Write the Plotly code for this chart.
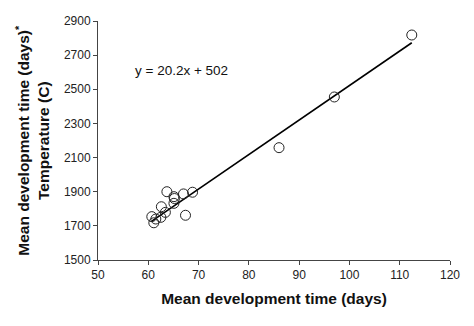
import plotly.graph_objects as go
import numpy as np

# Data
dev_days = [60.7, 61.1, 61.5, 62.5, 62.6, 63.4, 63.7, 65.1, 65.1, 65.2, 67.0, 67.4, 68.8, 86.0, 97.0, 112.4]
dev_temp = [1754, 1718, 1740, 1750, 1812, 1779, 1900, 1832, 1871, 1860, 1887, 1762, 1897, 2158, 2455, 2818]
slope = 20.2
intercept = 502
fit_x = [min(dev_days), max(dev_days)]
fit_y = [slope * v + intercept for v in fit_x]
x_ticks = [50, 60, 70, 80, 90, 100, 110, 120]
y_ticks = [1500, 1700, 1900, 2100, 2300, 2500, 2700, 2900]

fig = go.Figure()
fig.add_trace(go.Scatter(x=fit_x, y=fit_y, mode="lines",
                         line=dict(color="black", width=1.6), showlegend=False))
fig.add_trace(go.Scatter(x=dev_days, y=dev_temp, mode="markers",
                         marker=dict(symbol="circle-open", size=10, color="#222",
                                     line=dict(width=1)), showlegend=False))

font_axis = dict(family="Arial, Liberation Sans, sans-serif", size=12, color="#222")
fig.update_xaxes(range=[50, 120], tickvals=x_ticks, ticks="outside", ticklen=4,
                 showline=True, linecolor="#444", linewidth=1, showgrid=False, zeroline=False,
                 tickfont=font_axis,
                 title=dict(text="<b>Mean development time (days)</b>",
                            font=dict(family="Arial, Liberation Sans, sans-serif", size=15.5, color="#111"),
                            standoff=11))
fig.update_yaxes(range=[1500, 2900], tickvals=y_ticks, ticks="outside", ticklen=4,
                 showline=True, linecolor="#444", linewidth=1, showgrid=False, zeroline=False,
                 tickfont=font_axis)

fig.add_annotation(xref="paper", yref="paper", x=-0.187, y=0.5, textangle=-90,
                   xanchor="center", yanchor="middle",
                   text="<b>Mean development time (days)<sup>*</sup></b><br><b>Temperature (C)</b>",
                   showarrow=False,
                   font=dict(family="Arial, Liberation Sans, sans-serif", size=15.5, color="#111"))
fig.add_annotation(x=57, y=2610, xref="x", yref="y", xanchor="left",
                   text="y = 20.2x + 502", showarrow=False,
                   font=dict(family="Arial, Liberation Sans, sans-serif", size=13.5, color="#111"))

fig.update_layout(width=474, height=326, plot_bgcolor="white", paper_bgcolor="white",
                  margin=dict(l=98, r=24, t=21, b=66))
fig.write_html("out.html")
